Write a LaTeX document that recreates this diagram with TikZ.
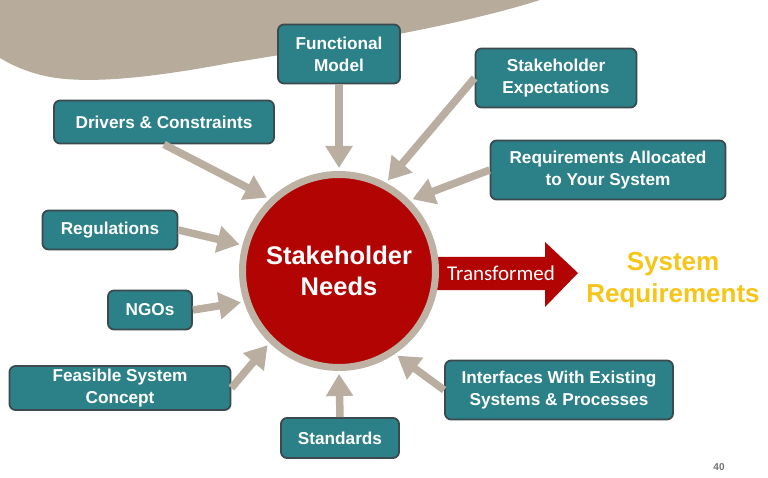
\documentclass[tikz,border=0pt]{standalone}
\usepackage{fontspec}
\setmainfont{Liberation Sans}
\newfontfamily\carl{Carlito}
\usetikzlibrary{arrows.meta}
\definecolor{blob}{HTML}{B7AB9C}
\definecolor{ring}{HTML}{BDB2A4}
\definecolor{feedc}{HTML}{B9AE9F}
\definecolor{teal1}{HTML}{2B8187}
\definecolor{tealb}{HTML}{3A4A4E}
\definecolor{redc}{HTML}{B30404}
\definecolor{yel}{HTML}{F5C518}
\begin{document}
\begin{tikzpicture}[x=1pt,y=-1pt,
  box/.style={draw=tealb,line width=1.8pt,fill=teal1,rounded corners=6pt,
    text=white,align=center,inner sep=0pt,
    font=\bfseries\fontsize{17.2}{22}\selectfont},
  feed/.style={draw=feedc,line width=7.5pt,
    -{Triangle[length=22pt,width=26pt]},shorten >=3pt}]
\useasboundingbox (0,0) rectangle (768,478);
\fill[white] (0,0) rectangle (768,478);
% background blob
\fill[blob] (0,0) -- (540,0) .. controls (455,27) and (330,47) .. (230,63)
  .. controls (150,78) and (90,84) .. (50,77)
  .. controls (25,72) and (10,64) .. (0,58) -- cycle;
% big red arrow
\fill[redc] (430,257) -- (545,257) -- (545,242) -- (578,273) -- (545,307) -- (545,290) -- (430,290) -- cycle;
\node[text=white,font=\carl\fontsize{21}{24}\selectfont] (tr) at (501,273) {Transformed};
% central circle
\node[circle,draw=ring,line width=7pt,fill=redc,minimum size=193pt,inner sep=0pt,
  text=white,align=center,font=\bfseries\fontsize{25.5}{31}\selectfont] (need) at (339,271)
  {Stakeholder\\Needs};
\node[text=yel,align=center,font=\bfseries\fontsize{26}{32}\selectfont] (sr) at (673,280)
  {System\\Requirements};
% boxes
\node[box,minimum width=122pt,minimum height=59pt] (fm) at (339,54) {Functional\\Model};
\node[box,minimum width=161pt,minimum height=59pt] (se) at (556,78) {Stakeholder\\Expectations};
\node[box,minimum width=220pt,minimum height=43pt] (drv) at (164,122) {Drivers \& Constraints};
\node[box,minimum width=235pt,minimum height=59pt] (ra) at (608,170) {Requirements Allocated\\to Your System};
\node[box,minimum width=135pt,minimum height=39pt] (reg) at (110,230) {Regulations};
\node[box,minimum width=84pt,minimum height=39pt] (ngo) at (150,310) {NGOs};
\node[box,minimum width=221pt,minimum height=44pt] (fsc) at (120,388) {Feasible System\\Concept};
\node[box,minimum width=118pt,minimum height=40pt] (std) at (340,438) {Standards};
\node[box,minimum width=228pt,minimum height=59pt] (ifc) at (559,390) {Interfaces With Existing\\Systems \& Processes};
% feeding arrows
\draw[feed] (fm.south) -- (need.90);
\draw[feed] (se.west) -- (need.62);
\draw[feed] (drv.south) -- (need.134);
\draw[feed] (ra.west) -- (need.45);
\draw[feed] (reg.east) -- (need.165);
\draw[feed] (ngo.east) -- (need.198);
\draw[feed] (fsc.east) -- (need.226);
\draw[feed] (std.north) -- (need.270);
\draw[feed] (ifc.west) -- (need.304);
% page number
\node[text=black!55,font=\bfseries\fontsize{10}{12}\selectfont] (pg) at (719,467) {40};
\end{tikzpicture}
\end{document}
